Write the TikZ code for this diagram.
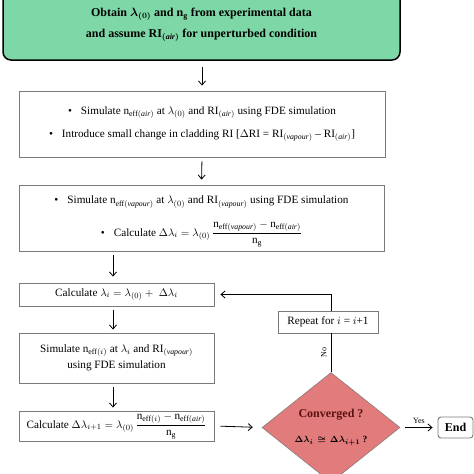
\documentclass[tikz,border=0pt]{standalone}
\usepackage{amsmath}
\usepackage{fontspec}
\setmainfont{Liberation Serif}
\usetikzlibrary{shapes.geometric,arrows.meta}
\definecolor{startgreen}{HTML}{7DD7A6}
\definecolor{decred}{HTML}{E27B7B}
\definecolor{darkred}{HTML}{5A1212}
\definecolor{boxgrey}{HTML}{7A7A7A}
\newcommand{\bul}{\textbullet\hspace{9pt}}
\tikzset{
  x=1pt, y=-1pt,
  txt/.style={font=\fontsize{11.2}{13}\selectfont},
  procbox/.style={draw=boxgrey, line width=0.9pt, align=center, inner sep=0pt, txt},
  flow/.style={-{Straight Barb[length=4pt,width=7pt]}, line width=0.8pt},
  plain/.style={line width=0.9pt}
}
\begin{document}
\begin{tikzpicture}
\useasboundingbox (0,0) rectangle (474,474);
\clip (0,0) rectangle (474,474);
% start
\node[draw=black, line width=1.5pt, rounded corners=8pt, fill=startgreen,
      minimum width=397pt, minimum height=71pt, inner sep=0pt, align=center,
      font=\fontsize{12}{21}\selectfont\bfseries\boldmath] (start) at (201.5,24.5)
  {Obtain $\lambda_{(0)}$ and n$_\mathrm{g}$ from experimental data\\
   and assume RI$_{(\mathit{air})}$ for unperturbed condition};
% box 2
\node[procbox, minimum width=366pt, minimum height=66pt, font=\fontsize{11.2}{23}\selectfont] (b2) at (202,124)
  {\bul Simulate n$_{\mathrm{eff}(\mathit{air})}$ at $\lambda_{(0)}$ and RI$_{(\mathit{air})}$ using FDE simulation\\
   \bul Introduce small change in cladding RI [$\Delta$RI = RI$_{(\mathit{vapour})}$ -- RI$_{(\mathit{air})}$]};
% box 3
\node[procbox, minimum width=365pt, minimum height=66pt] (b3) at (201.5,218) {};
\node[txt] (b3a) at (201.5,202)
  {\bul Simulate n$_{\mathrm{eff}(\mathit{vapour})}$ at $\lambda_{(0)}$ and RI$_{(\mathit{vapour})}$ using FDE simulation};
\node[txt] (b3b) at (201.5,234)
  {\bul Calculate $\Delta\lambda_i = \lambda_{(0)}\,\dfrac{\mathrm{n}_{\mathrm{eff}(\mathit{vapour})}-\mathrm{n}_{\mathrm{eff}(\mathit{air})}}{\mathrm{n_g}}$};
% box 4
\node[procbox, minimum width=195pt, minimum height=23pt] (b4) at (116.5,294.5)
  {Calculate $\lambda_i = \lambda_{(0)} + \;\Delta\lambda_i$};
% box 5
\node[procbox, minimum width=195pt, minimum height=50pt, font=\fontsize{11.2}{16}\selectfont] (b5) at (116.5,358)
  {Simulate n$_{\mathrm{eff}(i)}$ at $\lambda_i$ and RI$_{(\mathit{vapour})}$\\ using FDE simulation};
% box 6
\node[procbox, minimum width=195pt, minimum height=30pt] (b6) at (116.5,426)
  {Calculate $\Delta\lambda_{i+1} = \lambda_{(0)}\,\dfrac{\mathrm{n}_{\mathrm{eff}(i)}-\mathrm{n}_{\mathrm{eff}(\mathit{air})}}{\mathrm{n_g}}$};
% repeat
\node[procbox, minimum width=100pt, minimum height=22pt] (rep) at (328,322)
  {Repeat for $i$ = $i$+1};
% diamond
\node[diamond, draw=boxgrey, line width=0.5pt, fill=decred, aspect=1.25,
      minimum width=138pt, minimum height=110pt, inner sep=0pt] (dec) at (331,427.5) {};
\node[font=\fontsize{12}{13}\selectfont\bfseries, text=darkred] (conv) at (331,415) {Converged ?};
\node[font=\fontsize{9.5}{11}\selectfont\bfseries\boldmath] (cond) at (331,441) {$\Delta\lambda_i\mskip2mu\cong\mskip2mu\Delta\lambda_{i+1}$ ?};
% end
\node[draw=boxgrey, line width=0.9pt, rounded corners=3pt, minimum width=35pt, minimum height=21pt,
      inner sep=0pt, font=\fontsize{12}{13}\selectfont\bfseries] (endn) at (455.5,427.5) {End};
% connectors
\draw[flow, shorten <=6pt, shorten >=5pt] (start.south -| b2.north) -- (b2.north);
\draw[flow, shorten <=4pt, shorten >=5pt] (b2.south) -- (b3.north);
\coordinate (c3) at (113,0);
\draw[flow, shorten <=4pt, shorten >=6pt] (b3.south -| c3) -- (b4.north -| c3);
\draw[flow, shorten <=4pt, shorten >=3pt] (b4.south -| c3) -- (b5.north -| c3);
\draw[flow, shorten <=4pt, shorten >=3pt] (b5.south -| c3) -- (b6.north -| c3);
\draw[flow, shorten <=6pt, shorten >=9pt] (b6.east) -- (dec.west);
\draw[flow, shorten <=5pt, shorten >=5pt] (dec.east) -- node[above, font=\fontsize{8}{9}\selectfont] (yes) {Yes} (endn.west);
\draw[plain] (dec.north) -- node[rotate=90, anchor=south, font=\fontsize{8}{9}\selectfont, inner sep=4pt] (no) {No} (dec.north |- rep.south);
\draw[flow, shorten >=6pt] (rep.north -| dec.north) |- (b4.east);
\end{tikzpicture}
\end{document}
